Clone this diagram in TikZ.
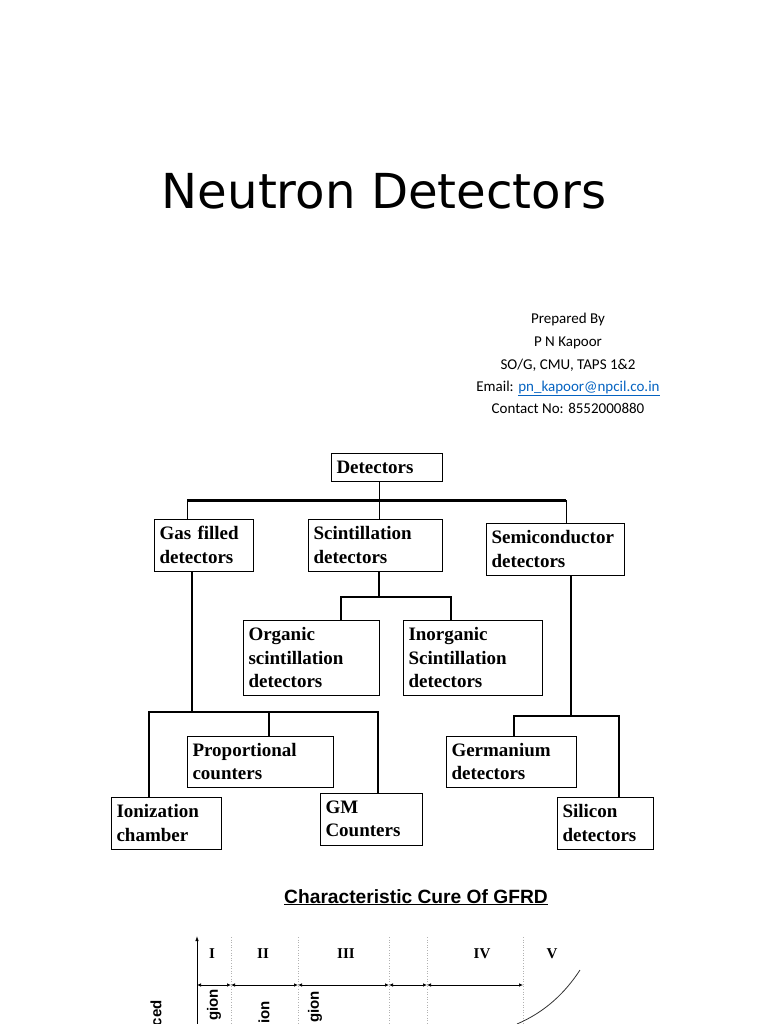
\documentclass[tikz,border=0pt]{standalone}
\usepackage{fontspec}
\setmainfont{Liberation Serif}
\newfontfamily\titlefont{DejaVu Sans}
\newfontfamily\infofont{Carlito}
\newfontfamily\chartfont{Liberation Sans}
\usetikzlibrary{arrows.meta}
\definecolor{linkblue}{HTML}{0563C1}

\tikzset{
  box/.style={draw, line width=0.8pt, align=left, inner xsep=5.5pt, inner ysep=0pt,
    font=\fontsize{19}{23.5}\selectfont\bfseries},
  info/.style={anchor=base, inner sep=0pt, font=\infofont\fontsize{15}{18}\selectfont},
  bus/.style={line width=3pt},
  link/.style={line width=2.4pt},
  feed/.style={line width=0.7pt},
  roman/.style={anchor=base, inner sep=0pt, font=\fontsize{15}{18}\selectfont\bfseries},
  vlabel/.style={rotate=90, anchor=east, inner sep=0pt, font=\chartfont\fontsize{15}{18}\selectfont\bfseries},
  sep/.style={dotted, gray!60, line width=0.6pt},
  span/.style={line width=0.7pt, {Latex[length=4pt,width=3.5pt]}-{Latex[length=4pt,width=3.5pt]}}
}

\begin{document}
\begin{tikzpicture}[x=1pt,y=-1pt]
\useasboundingbox (0,0) rectangle (768,1024);
% title and contact
\node[anchor=base, inner sep=0pt, font=\titlefont\fontsize{48.2}{50}\selectfont] (title) at (384,209) {Neutron Detectors};
\node[info] (prep) at (568,323) {Prepared By};
\node[info] (name) at (568,346) {P N Kapoor};
\node[info] (post) at (568,369) {SO/G, CMU, TAPS 1\&2};
\node[info] (mail) at (568,391) {Email: \textcolor{linkblue}{\underline{pn\_kapoor@npcil.co.in}}};
\node[info] (phone) at (568,413) {Contact No: 8552000880};

% tree of detectors
\node[box, text width=100pt, minimum height=28pt] (det) at (386.5,467) {Detectors};
\node[box, text width=88pt, minimum height=52pt] (gas) at (203.5,545) {Gas filled\\detectors};
\node[box, text width=123pt, minimum height=52pt] (sci) at (375,545) {Scintillation\\detectors};
\node[box, text width=127pt, minimum height=52pt] (semi) at (555,549) {Semiconductor\\detectors};
\node[box, text width=125pt, minimum height=75pt] (org) at (311,657.5) {Organic\\scintillation\\detectors};
\node[box, text width=128pt, minimum height=75pt] (inorg) at (472.5,657.5) {Inorganic\\Scintillation\\detectors};
\node[box, text width=135pt, minimum height=51pt] (prop) at (260,761.5) {Proportional\\counters};
\node[box, text width=119pt, minimum height=51pt] (germ) at (511,761.5) {Germanium\\detectors};
\node[box, text width=99pt, minimum height=52pt] (ion) at (166,823) {Ionization\\chamber};
\node[box, text width=91pt, minimum height=52pt] (gm) at (371,819) {GM\\Counters};
\node[box, text width=85pt, minimum height=52pt] (sil) at (605,823) {Silicon\\detectors};

% top level
\coordinate (busL) at (187,500);
\coordinate (busR) at (566,500);
\draw[bus] (busL) -- (busR);
\draw[feed] (busL) -- (busL |- gas.north);
\draw[feed] (busR) -- (busR |- semi.north);
\draw[feed] ([xshift=-7.5pt]det.south) -- ([xshift=-7.5pt]det.south |- sci.north);

% gas filled branch
\coordinate (gfork) at (192,712);
\coordinate (gL) at (149,712);
\coordinate (gM) at (269,712);
\coordinate (gR) at (378,712);
\draw[link] (gfork |- gas.south) -- (gfork);
\draw[link] (gL |- ion.north) -- (gL) -- (gR) -- (gR |- gm.north);
\draw[link] (gM) -- (gM |- prop.north);

% scintillation branch
\coordinate (sfork) at (379,597);
\coordinate (sL) at (341,597);
\coordinate (sR) at (451,597);
\draw[link] (sfork |- sci.south) -- (sfork);
\draw[link] (sL |- org.north) -- (sL) -- (sR) -- (sR |- inorg.north);

% semiconductor branch
\coordinate (cfork) at (571,716);
\coordinate (cL) at (514,716);
\coordinate (cR) at (619,716);
\draw[link] (cfork |- semi.south) -- (cfork);
\draw[link] (cL |- germ.north) -- (cL) -- (cR) -- (cR |- sil.north);

% characteristic curve
\node[anchor=base, inner sep=0pt, font=\chartfont\fontsize{19.2}{22}\selectfont\bfseries] (ctitle) at (416,903) {\underline{Characteristic Cure Of GFRD}};
\foreach \x in {231,298,389,427,523}
  \draw[sep] (\x,937) -- (\x,1024);
\draw[line width=0.8pt, -{Latex[length=5pt,width=3.5pt]}] (197,1024) -- (197,936);
\coordinate (d0) at (197,985);
\coordinate (d1) at (231,985);
\coordinate (d2) at (298,985);
\coordinate (d3) at (389,985);
\coordinate (d4) at (427,985);
\coordinate (d5) at (523,985);
\foreach \a/\b in {d0/d1,d1/d2,d2/d3,d3/d4,d4/d5}
  \draw[span] (\a) -- (\b);
\node[roman] (r1) at (212,958) {I};
\node[roman] (r2) at (263,958) {II};
\node[roman] (r3) at (346,958) {III};
\node[roman] (r4) at (482,958) {IV};
\node[roman] (r5) at (552,958) {V};
\node[vlabel] (lab0) at (156,1000) {ced};
\node[vlabel] (lab1) at (214,989) {gion};
\node[vlabel] (lab2) at (264,1001) {ion};
\node[vlabel] (lab3) at (315,991) {gion};
\draw[line width=0.8pt, black!80] (517,1024) .. controls (545,1012) and (565,993) .. (580,970);
\end{tikzpicture}
\end{document}
